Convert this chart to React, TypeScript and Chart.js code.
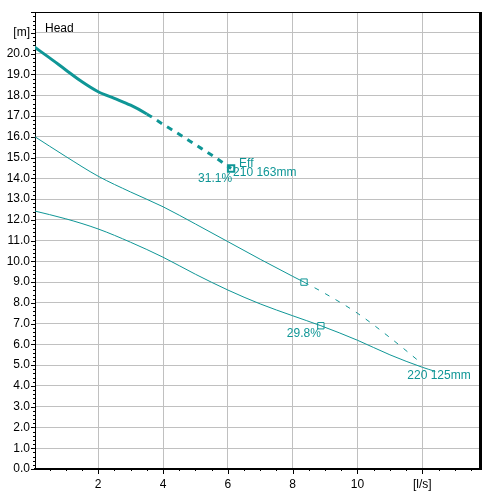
import { useEffect, useRef } from 'react';
import { Chart, registerables } from 'chart.js';

Chart.register(...registerables);

// Large impeller curve (thick), solid then dashed
const thickFlow = [0, 0.5, 1, 1.5, 2, 2.5, 3, 3.5, 4, 4.5, 5, 5.5, 6, 6.1];
const thickHead = [20.36, 19.8, 19.22, 18.65, 18.17, 17.85, 17.52, 17.1, 16.6, 16.12, 15.62, 15.12, 14.58, 14.47];
const thickDashFrom = 3.5;

// Middle curve (thin), solid then dashed
const midFlow = [0, 1, 2, 3, 4, 5, 6, 7, 8, 8.35, 9, 10, 11, 12];
const midHead = [16.05, 15.05, 14.1, 13.34, 12.63, 11.8, 10.95, 10.1, 9.28, 9.0, 8.45, 7.5, 6.33, 5.06];
const midDashFrom = 8.35;

// Lower curve (thin), solid
const lowFlow = [0, 1, 2, 3, 4, 5, 6, 7, 8, 8.87, 10, 11, 12, 12.4];
const lowHead = [12.44, 12.05, 11.56, 10.92, 10.2, 9.38, 8.62, 7.95, 7.38, 6.9, 6.2, 5.5, 4.9, 4.7];

// Operating-point markers
const markerFlow = [6.1, 8.35, 8.87];
const markerHead = [14.47, 9.0, 6.9];

// Axis ticks
const yTickValues = [0, 1, 2, 3, 4, 5, 6, 7, 8, 9, 10, 11, 12, 13, 14, 15, 16, 17, 18, 19, 20, 21];
const yTickLabels = ['0.0', '1.0', '2.0', '3.0', '4.0', '5.0', '6.0', '7.0', '8.0', '9.0', '10.0', '11.0', '12.0', '13.0', '14.0', '15.0', '16.0', '17.0', '18.0', '19.0', '20.0', '[m]'];
const xTickValues = [2, 4, 6, 8, 10, 12];
const xTickLabels = ['2', '4', '6', '8', '10', '[l/s]'];

// Annotation texts
const titleText = 'Head';
const effLabel = 'Eff';
const bigLabel = '210 163mm';
const bigEff = '31.1%';
const smallEff = '29.8%';
const smallLabel = '220 125mm';

const TEAL = '#0f9696';
const FONT = '"Liberation Sans", Arial, sans-serif';

export default function App() {
  const ref = useRef<HTMLCanvasElement | null>(null);

  useEffect(() => {
    if (!ref.current) return;

    const framePlugin = {
      id: 'frame',
      afterDraw(chart: any) {
        const { ctx, chartArea, scales } = chart;
        const { left, right, top, bottom } = chartArea;
        const x = scales.x;
        const y = scales.y;
        ctx.save();
        ctx.strokeStyle = '#000';
        ctx.lineWidth = 1;
        ctx.beginPath();
        for (let i = 0; i <= 110; i++) {
          const v = i * 0.2;
          if (v > y.max + 1e-9) break;
          const py = Math.round(y.getPixelForValue(v)) + 0.5;
          const len = i % 5 === 0 ? 4 : 2;
          ctx.moveTo(left - len, py);
          ctx.lineTo(left, py);
        }
        for (let k = 1; k <= 30; k++) {
          const v = k * 0.5;
          if (v > x.max) break;
          const px = Math.round(x.getPixelForValue(v)) + 0.5;
          const len = v % 2 === 0 ? 5 : 2;
          ctx.moveTo(px, bottom);
          ctx.lineTo(px, bottom + len);
        }
        // top border
        ctx.moveTo(left, Math.round(top) + 0.5);
        ctx.lineTo(right, Math.round(top) + 0.5);
        ctx.stroke();
        // right border
        ctx.fillStyle = '#000';
        ctx.fillRect(Math.round(right) - 1, Math.round(top), 3, Math.round(bottom) - Math.round(top) + 1);

        // texts
        ctx.font = `12px ${FONT}`;
        ctx.textBaseline = 'middle';
        ctx.fillStyle = '#000';
        ctx.textAlign = 'left';
        ctx.fillText(titleText, left + 10, top + 16);

        ctx.fillStyle = TEAL;
        const p0x = x.getPixelForValue(markerFlow[0]);
        const p0y = y.getPixelForValue(markerHead[0]);
        ctx.textAlign = 'left';
        ctx.fillText(effLabel, p0x + 8, p0y - 5);
        ctx.fillText(bigLabel, p0x + 2, p0y + 4);
        ctx.textAlign = 'right';
        ctx.fillText(bigEff, p0x + 1, p0y + 10);

        const p2x = x.getPixelForValue(markerFlow[2]);
        const p2y = y.getPixelForValue(markerHead[2]);
        ctx.textAlign = 'right';
        ctx.fillText(smallEff, p2x, p2y + 8);

        const ex = x.getPixelForValue(midFlow[midFlow.length - 1]);
        const ey = y.getPixelForValue(midHead[midHead.length - 1]);
        ctx.textAlign = 'left';
        ctx.fillText(smallLabel, ex - 15, ey + 12);
        ctx.restore();
      },
    };

    const toPts = (xs: number[], ys: number[]) => xs.map((v, i) => ({ x: v, y: ys[i] }));

    const chart = new Chart(ref.current, {
      type: 'line',
      data: {
        datasets: [
          {
            data: toPts(thickFlow, thickHead),
            borderColor: TEAL,
            borderWidth: 3,
            pointRadius: 0,
            cubicInterpolationMode: 'monotone',
            segment: {
              borderDash: (c: any) => (c.p0.parsed.x >= thickDashFrom - 1e-9 ? [6, 6] : undefined),
            },
          },
          {
            data: toPts(midFlow, midHead),
            borderColor: TEAL,
            borderWidth: 1,
            pointRadius: 0,
            cubicInterpolationMode: 'monotone',
            segment: {
              borderDash: (c: any) => (c.p0.parsed.x >= midDashFrom - 1e-9 ? [5, 7] : undefined),
            },
          },
          {
            data: toPts(lowFlow, lowHead),
            borderColor: TEAL,
            borderWidth: 1,
            pointRadius: 0,
            cubicInterpolationMode: 'monotone',
          },
          {
            data: toPts(markerFlow, markerHead),
            showLine: false,
            borderColor: TEAL,
            backgroundColor: '#fff',
            borderWidth: [2, 1, 1] as any,
            pointStyle: 'rect',
            pointRadius: 4.5,
          },
        ],
      },
      options: {
        responsive: false,
        animation: false,
        layout: { padding: { top: 11, right: 20, left: 0, bottom: 0 } },
        plugins: { legend: { display: false }, tooltip: { enabled: false } },
        scales: {
          x: {
            type: 'linear',
            min: 0.05,
            max: 13.78,
            afterBuildTicks: (s: any) => {
              s.ticks = xTickValues.map((v) => ({ value: v }));
            },
            afterFit: (s: any) => {
              s.height = 31;
            },
            ticks: {
              callback: (v: any) => xTickLabels[xTickValues.indexOf(Number(v))] ?? '',
              font: { family: FONT, size: 12 },
              color: '#000',
              padding: 8,
              maxRotation: 0,
              autoSkip: false,
            },
            grid: { color: '#c0c0c0', lineWidth: 1, drawTicks: false },
            border: { display: true, color: '#000', width: 2 },
          },
          y: {
            type: 'linear',
            min: 0,
            max: 22,
            afterBuildTicks: (s: any) => {
              s.ticks = yTickValues.map((v) => ({ value: v }));
            },
            afterFit: (s: any) => {
              s.width = 35;
            },
            ticks: {
              callback: (v: any) => yTickLabels[yTickValues.indexOf(Number(v))] ?? '',
              font: { family: FONT, size: 12 },
              color: '#000',
              padding: 5,
              autoSkip: false,
            },
            grid: { color: '#c0c0c0', lineWidth: 1, drawTicks: false },
            border: { display: true, color: '#000', width: 1 },
          },
        },
      },
      plugins: [framePlugin],
    } as any);

    return () => chart.destroy();
  }, []);

  return (
    <div style={{ position: 'fixed', left: 0, top: 0, width: 500, height: 500, background: '#fff' }}>
      <canvas ref={ref} width={500} height={500} />
    </div>
  );
}
